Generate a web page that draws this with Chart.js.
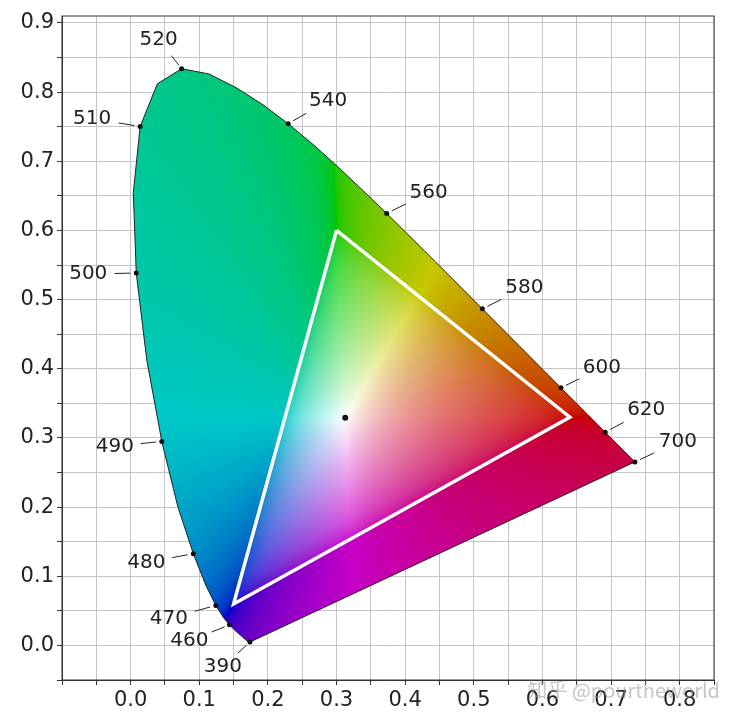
<!DOCTYPE html>
<html>
<head>
<meta charset="utf-8">
<script src="https://cdn.jsdelivr.net/npm/chart.js@4.4.0/dist/chart.umd.min.js"></script>
<style>
  html, body { margin: 0; padding: 0; background: #fff; }
  #wrap { width: 739px; height: 723px; }
</style>
</head>
<body>
<div id="wrap"><canvas id="cie"></canvas></div>
<script>
// CIE 1931 spectral locus (wavelength nm, x, y)
const locusNm = [380,390,400,410,420,425,430,435,440,445,450,455,460,465,470,475,480,485,490,495,500,505,510,515,520,525,530,535,540,545,550,555,560,565,570,575,580,585,590,595,600,605,610,615,620,625,630,640,650,660,680,700];
const locusX = [0.1741,0.1738,0.1733,0.1726,0.1714,0.1703,0.1689,0.1669,0.1644,0.1611,0.1566,0.1510,0.1440,0.1355,0.1241,0.1096,0.0913,0.0687,0.0454,0.0235,0.0082,0.0039,0.0139,0.0389,0.0743,0.1142,0.1547,0.1929,0.2296,0.2658,0.3016,0.3373,0.3731,0.4087,0.4441,0.4788,0.5125,0.5448,0.5752,0.6029,0.6270,0.6482,0.6658,0.6801,0.6915,0.7006,0.7079,0.7190,0.7260,0.7300,0.7334,0.7347];
const locusY = [0.0050,0.0049,0.0048,0.0048,0.0051,0.0058,0.0069,0.0086,0.0109,0.0138,0.0177,0.0227,0.0297,0.0399,0.0578,0.0868,0.1327,0.2007,0.2950,0.4127,0.5384,0.6548,0.7502,0.8120,0.8338,0.8262,0.8059,0.7816,0.7543,0.7243,0.6923,0.6589,0.6245,0.5896,0.5547,0.5202,0.4866,0.4544,0.4242,0.3965,0.3725,0.3514,0.3340,0.3197,0.3083,0.2993,0.2920,0.2809,0.2740,0.2700,0.2666,0.2653];

// labelled wavelengths and where their text sits (pixel offset from the dot)
const markNm = [390,460,470,480,490,500,510,520,540,560,580,600,620,700];
const markDx = [-27,-40,-47,-47,-47,-48,-48,-23,40,42,42,41,41,43];
const markDy = [25,16,13,9,5,1,-8,-29,-23,-21,-21,-20,-22,-20];

// sRGB gamut triangle and D65 white point
const gamutX = [0.30, 0.64, 0.15, 0.30];
const gamutY = [0.60, 0.33, 0.06, 0.60];
const whiteX = [0.3127];
const whiteY = [0.329];

const xTicks = [0.0,0.1,0.2,0.3,0.4,0.5,0.6,0.7,0.8];
const yTicks = [0.0,0.1,0.2,0.3,0.4,0.5,0.6,0.7,0.8,0.9];

const pts = (xs, ys) => xs.map((x, i) => ({ x: x, y: ys[i] }));
const locusPts = pts(locusX, locusY);
locusPts.push({ x: locusX[0], y: locusY[0] });
const markPts = markNm.map(nm => { const i = locusNm.indexOf(nm); return { x: locusX[i], y: locusY[i] }; });

function xyToRgb(x, y) {
  const X = x / y, Y = 1, Z = (1 - x - y) / y;
  let r = 3.2406 * X - 1.5372 * Y - 0.4986 * Z;
  let g = -0.9689 * X + 1.8758 * Y + 0.0415 * Z;
  let b = 0.0557 * X - 0.2040 * Y + 1.0570 * Z;
  const m = Math.min(r, g, b);
  if (m < 0) { r -= m; g -= m; b -= m; }
  const mx = Math.max(r, g, b);
  r /= mx; g /= mx; b /= mx;
  const gam = c => c <= 0.0031308 ? 12.92 * c : 1.055 * Math.pow(c, 1 / 2.4) - 0.055;
  let c = [gam(r), gam(g), gam(b)];
  // mute the saturated edge colours a little, like the printed diagram
  const sat = Math.max(...c) - Math.min(...c);
  const k = 1 - 0.22 * sat;
  c = c.map(v => v * k);
  return c.map(v => v * 255);
}

const fillPlugin = {
  id: 'locusFill',
  beforeDatasetsDraw(chart) {
    const { ctx, chartArea: a, scales: { x, y } } = chart;
    const w = Math.round(a.right - a.left), h = Math.round(a.bottom - a.top);
    const off = document.createElement('canvas');
    off.width = w; off.height = h;
    const octx = off.getContext('2d');
    const img = octx.createImageData(w, h);
    for (let j = 0; j < h; j++) {
      const cy = y.getValueForPixel(a.top + j + 0.5);
      for (let i = 0; i < w; i++) {
        const cx = x.getValueForPixel(a.left + i + 0.5);
        if (cy <= 0.001) continue;
        const c = xyToRgb(cx, cy);
        const k = (j * w + i) * 4;
        img.data[k] = c[0]; img.data[k + 1] = c[1]; img.data[k + 2] = c[2]; img.data[k + 3] = 255;
      }
    }
    octx.putImageData(img, 0, 0);
    ctx.save();
    ctx.beginPath();
    locusPts.forEach((p, i) => {
      const px = x.getPixelForValue(p.x), py = y.getPixelForValue(p.y);
      i ? ctx.lineTo(px, py) : ctx.moveTo(px, py);
    });
    ctx.closePath();
    ctx.clip();
    ctx.drawImage(off, a.left, a.top);
    ctx.restore();
  },
  afterDatasetsDraw(chart) {
    const { ctx, chartArea: a, scales: { x, y } } = chart;
    ctx.save();
    ctx.strokeStyle = '#333';
    ctx.lineWidth = 1;
    ctx.strokeRect(a.left, a.top, a.right - a.left, a.bottom - a.top);
    ctx.font = '20px "DejaVu Sans"';
    ctx.fillStyle = '#222';
    ctx.strokeStyle = '#222';
    ctx.textAlign = 'center';
    ctx.textBaseline = 'middle';
    markPts.forEach((p, i) => {
      const px = x.getPixelForValue(p.x), py = y.getPixelForValue(p.y);
      const lx = px + markDx[i], ly = py + markDy[i];
      ctx.beginPath();
      ctx.moveTo(px + markDx[i] * 0.12, py + markDy[i] * 0.12);
      ctx.lineTo(px + markDx[i] * 0.45, py + markDy[i] * 0.45);
      ctx.stroke();
      ctx.fillText(String(markNm[i]), lx, ly);
    });
    ctx.font = '20px "Noto Sans CJK SC"';
    ctx.fillStyle = 'rgba(150,150,150,0.55)';
    ctx.textAlign = 'right';
    ctx.fillText('知乎 @pourtheworld', 720, 690);
    ctx.restore();
  }
};

const tickFont = { family: 'DejaVu Sans', size: 21 };
const grid = { color: '#c4c4c4', lineWidth: 1, tickLength: 5, tickColor: '#333' };

new Chart(document.getElementById('cie'), {
  type: 'scatter',
  data: {
    datasets: [
      { data: markPts, pointRadius: 2.5, pointBackgroundColor: '#111', pointBorderWidth: 0, showLine: false },
      { data: pts(whiteX, whiteY), pointRadius: 3, pointBackgroundColor: '#111', pointBorderWidth: 0, showLine: false },
      { data: pts(gamutX, gamutY), showLine: true, borderColor: '#fff', borderWidth: 3.5, pointRadius: 0, tension: 0 },
      { data: locusPts, showLine: true, borderColor: '#222', borderWidth: 1, pointRadius: 0, tension: 0 }
    ]
  },
  options: {
    responsive: true,
    maintainAspectRatio: false,
    animation: false,
    layout: { padding: { top: 16, right: 25, left: 0, bottom: 0 } },
    plugins: { legend: { display: false }, tooltip: { enabled: false } },
    scales: {
      x: {
        min: -0.1, max: 0.85,
        afterFit: s => { s.height = 43; },
        afterBuildTicks: s => { s.ticks = []; for (let v = -0.1; v <= 0.851; v += 0.05) s.ticks.push({ value: Math.round(v * 100) / 100 }); },
        ticks: { font: tickFont, color: '#222', autoSkip: false, maxRotation: 0,
          callback: v => xTicks.some(t => Math.abs(t - v) < 1e-6) ? v.toFixed(1) : '' },
        grid: grid,
        border: { color: '#333', width: 1 }
      },
      y: {
        min: -0.05, max: 0.91,
        afterFit: s => { s.width = 62; },
        afterBuildTicks: s => { s.ticks = []; for (let v = -0.05; v <= 0.91; v += 0.05) s.ticks.push({ value: Math.round(v * 100) / 100 }); },
        ticks: { font: tickFont, color: '#222', autoSkip: false,
          callback: v => yTicks.some(t => Math.abs(t - v) < 1e-6) ? v.toFixed(1) : '' },
        grid: grid,
        border: { color: '#333', width: 1 }
      }
    }
  },
  plugins: [fillPlugin]
});
</script>
</body>
</html>
